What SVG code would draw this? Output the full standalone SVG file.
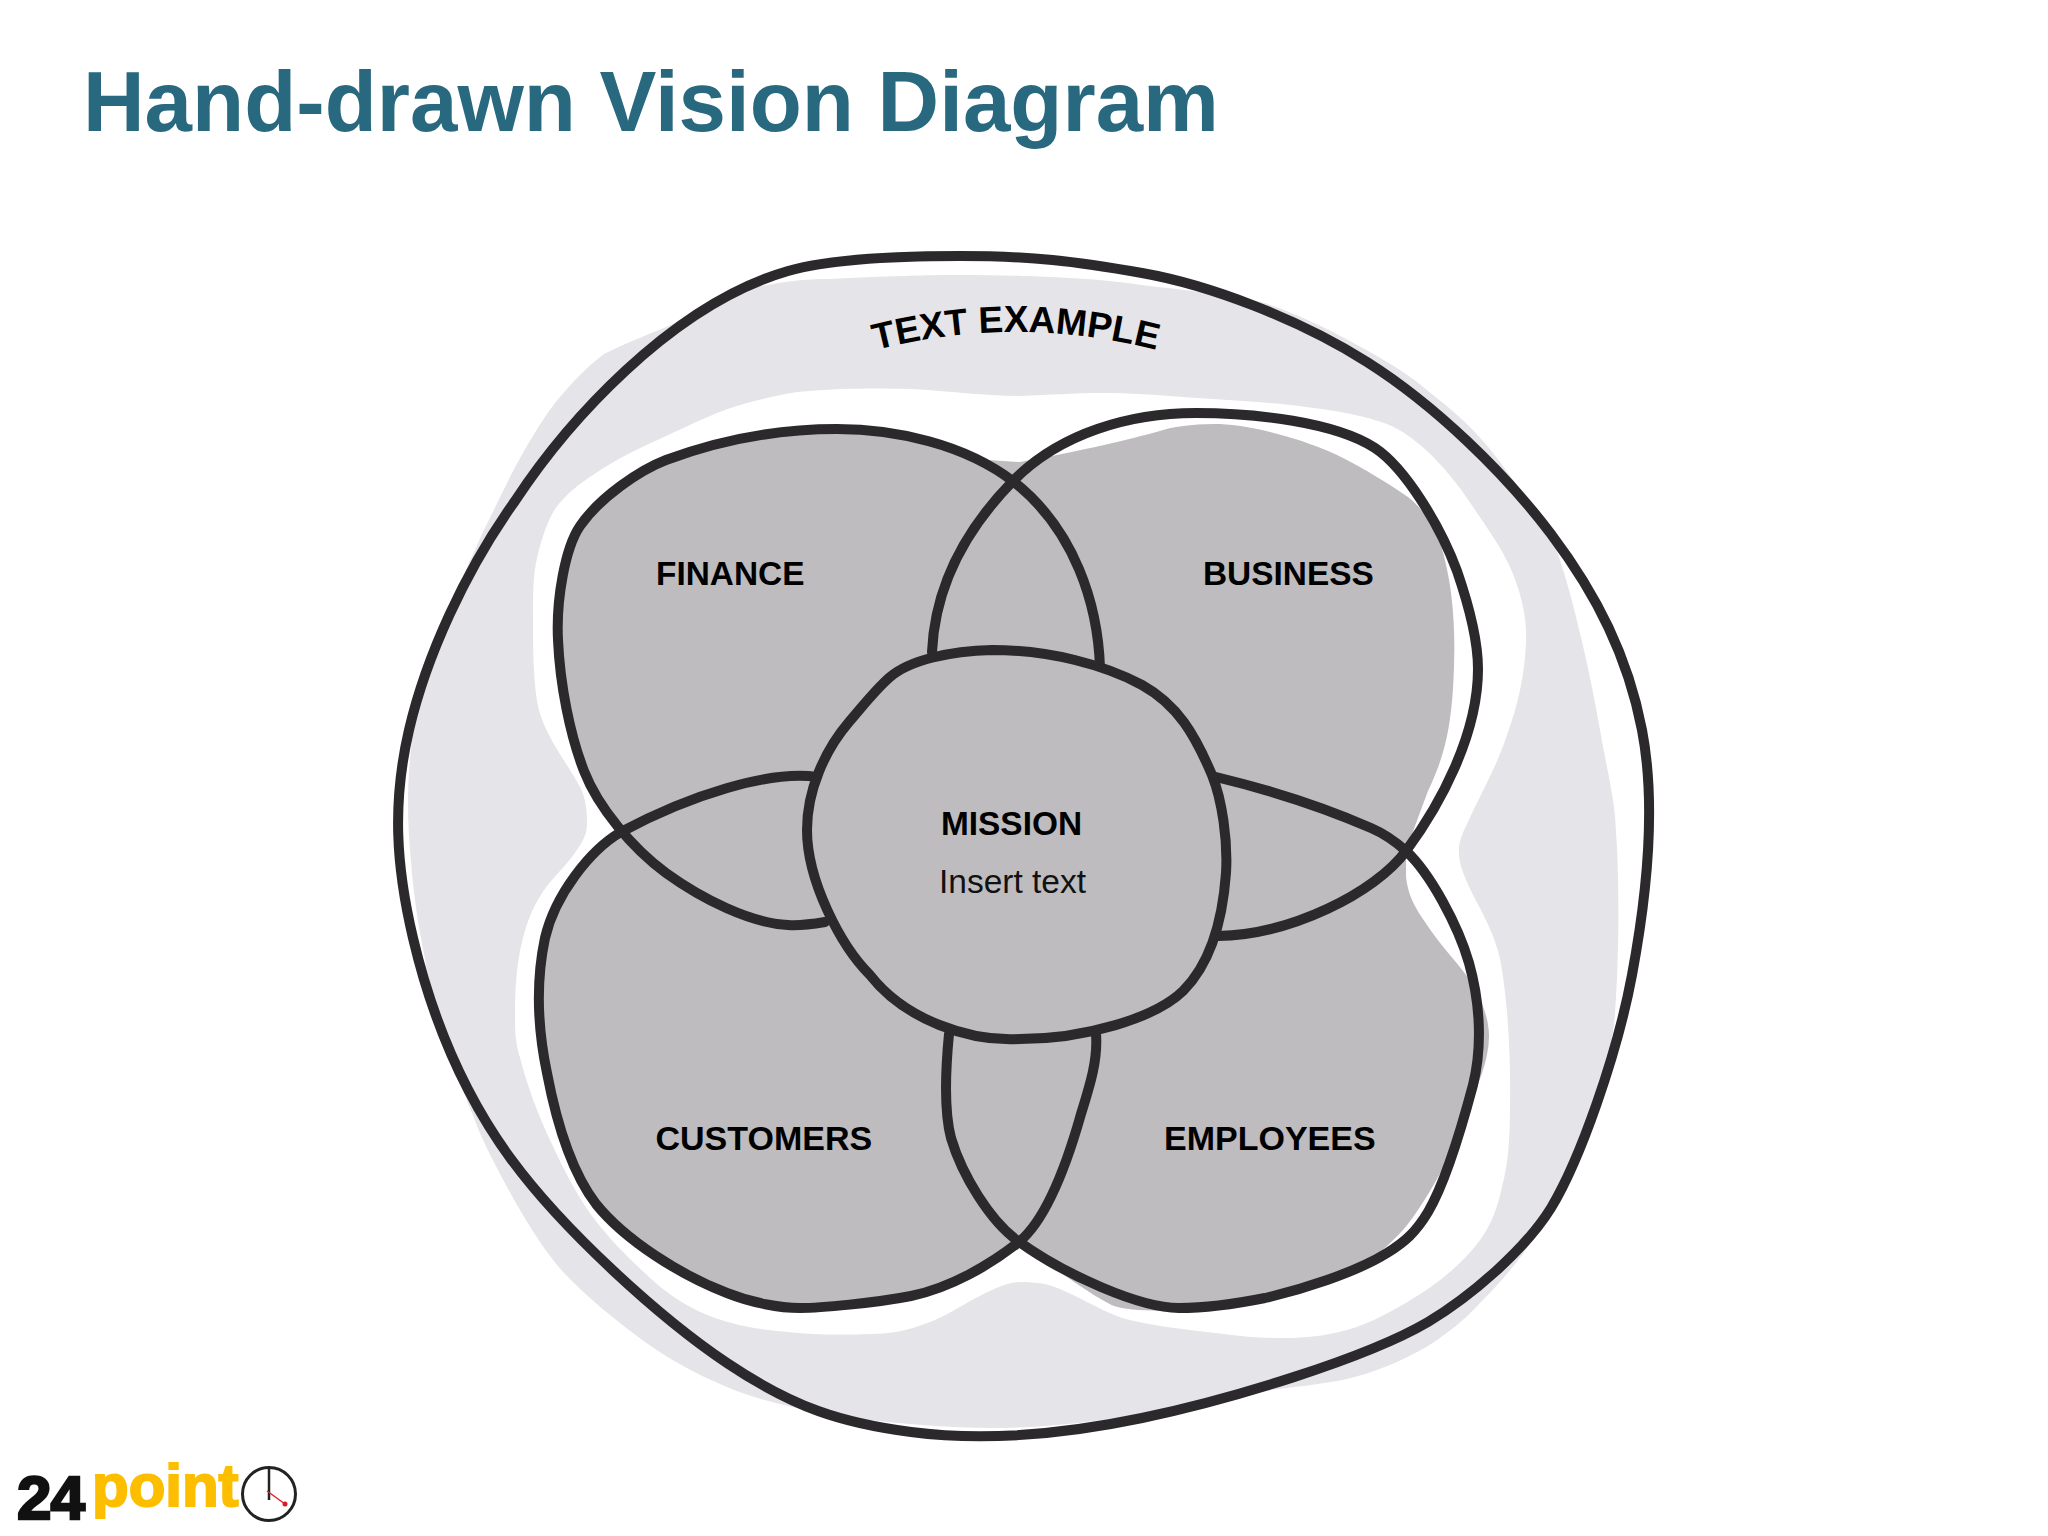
<svg xmlns="http://www.w3.org/2000/svg" width="2048" height="1536" viewBox="0 0 2048 1536">
<style>
.ln{fill:none;stroke:#2b292c;stroke-width:10;stroke-linecap:round;stroke-linejoin:round}
.fl{fill:#bebcbf}
.lb{font-family:"Liberation Sans",Arial,sans-serif;font-weight:700;font-size:33.4px;fill:#000}
</style>
<defs>
<path id="curve" d="M846 358.5 Q1016 305.5 1186 358.5"/>
</defs>
<rect width="2048" height="1536" fill="#fff"/>
<text x="83" y="131" font-family="Liberation Sans,Arial,sans-serif" font-weight="700" font-size="85.3" fill="#28697f">Hand-drawn Vision Diagram</text>
<g id="backdrop">
<path fill="#e5e4e8" d="M960 275 C1030 275 1100 278 1142 285 C1185 290 1230 295 1265 303 C1300 315 1330 330 1359 346 C1385 360 1410 375 1428 391 C1450 408 1470 425 1489 448 C1515 480 1540 520 1555 546 C1570 585 1590 670 1600 730 C1608 775 1615 800 1616 832 C1619 870 1620 960 1614 1024 C1610 1060 1600 1090 1591 1114 C1575 1155 1560 1195 1542 1224 C1525 1255 1500 1283 1481 1302 C1465 1320 1445 1335 1428 1346 C1400 1362 1375 1372 1347 1379 C1320 1385 1290 1387 1265 1391 C1200 1405 1150 1415 1102 1420 C1060 1426 1020 1428 992 1428 C950 1428 905 1424 870 1420 C840 1416 815 1412 796 1408 C770 1402 748 1396 727 1387 C698 1375 670 1360 645 1342 C615 1320 588 1298 564 1273 C543 1250 522 1215 507 1187 C494 1162 484 1145 474 1118 C460 1085 450 1050 441 1020 C435 998 428 980 425 959 C418 925 413 890 411 861 C408 830 407 800 409 771 C411 745 414 715 421 689 C432 650 450 605 462 579 C468 565 475 550 482 534 C495 508 507 482 519 460 C530 440 542 420 555 403 C570 385 585 368 604 354 C625 343 655 332 678 322 C700 310 725 295 747 289 C775 283 800 279 829 279 C870 277 920 275 960 275Z"/>
<path fill="#fff" d="M1020 396 C1050 395 1075 393 1102 393 C1130 393 1155 395 1183 397 C1225 400 1270 402 1306 407 C1340 411 1365 416 1387 424 C1402 430 1415 440 1428 452 C1445 468 1458 485 1469 501 C1485 525 1500 545 1510 567 C1520 590 1527 615 1526 640 C1525 675 1518 705 1506 738 C1495 770 1480 795 1467 824 C1461 836 1458 845 1459 853 C1459 865 1465 878 1473 895 C1482 912 1495 935 1500 959 C1508 1000 1511 1060 1510 1106 C1510 1140 1508 1165 1502 1187 C1497 1210 1490 1228 1477 1244 C1463 1262 1445 1277 1428 1289 C1400 1307 1375 1322 1347 1330 C1325 1336 1305 1338 1285 1338 C1262 1338 1245 1337 1224 1334 C1190 1330 1150 1326 1122 1318 C1105 1312 1090 1303 1073 1295 C1060 1289 1048 1283 1036 1283 C1024 1282 1015 1281 1004 1285 C993 1289 983 1294 972 1300 C953 1311 938 1320 919 1326 C905 1331 888 1334 870 1334 C842 1335 815 1335 788 1332 C762 1330 738 1326 715 1318 C693 1310 675 1299 658 1285 C632 1262 610 1240 592 1216 C575 1192 563 1168 551 1142 C538 1115 527 1085 521 1061 C516 1045 515 1035 515 1020 C515 990 516 965 523 938 C527 922 532 910 539 898 C548 882 562 870 572 857 C581 845 587 835 587 825 C587 810 586 798 580 787 C573 773 563 760 555 746 C546 730 540 718 537 701 C533 675 533 645 533 616 C533 595 533 575 537 558 C541 540 547 522 555 509 C565 495 580 483 596 473 C618 458 642 447 666 436 C690 425 720 410 747 403 C768 398 788 392 809 391 C840 388 880 388 911 389 C950 391 985 396 1020 396Z"/>
</g>
<g id="outer"><path class="ln" d="M960 256 C1032 256 1074 261 1142 273 S1299 319 1367 362 S1505 473 1551 534 S1628 657 1642 730 S1647 895 1632 975 S1580 1160 1551 1208 C1525 1250 1470 1297 1428 1322 C1365 1359 1228 1400 1142 1418 S980 1441 911 1432 S794 1408 727 1363 S563 1230 511 1159 S430 1010 413 938 S392 803 409 730 S465 571 515 501 C565 425 670 305 788 271 C830 259 900 256 960 256Z"/>
<text class="lb" style="font-size:37px"><textPath href="#curve" startOffset="50%" text-anchor="middle">TEXT EXAMPLE</textPath></text>
</g>
<g id="fills">
<path id="fill-finance" class="fl" d="M1100 668 C1098 605 1075 530 1014 482 C965 444 895 429 837 429 C780 429 720 440 666 460 C640 470 600 497 580 526 C565 548 556 600 558 640 C560 685 570 735 584 771 C598 807 632 848 666 873 C702 899 750 923 788 925 C800 926 813 924 825 922Z"/>
<path id="fill-business" class="fl" d="M988 460 L1020 462 C1060 455 1130 440 1163 430 C1180 425 1200 424 1220 424 C1262 426 1320 445 1347 460 C1375 475 1395 488 1408 497 C1425 510 1435 530 1440 542 C1455 590 1456 640 1453 689 C1450 730 1445 755 1428 791 L1406 850 L1218 936 L932 660 L945 570Z"/>
<path id="fill-employees" class="fl" d="M1216 777 C1270 790 1325 808 1371 828 C1385 834 1396 842 1406 851 L1406 877 C1408 895 1415 908 1425 922 C1440 945 1455 960 1463 971 C1478 990 1489 1015 1489 1036 C1489 1060 1478 1085 1469 1106 C1455 1150 1430 1195 1408 1224 C1395 1240 1378 1255 1363 1265 L1265 1298 L1204 1307 C1180 1312 1130 1312 1114 1306 C1095 1298 1045 1262 1028 1249 L949 1034Z"/>
<path id="fill-customers" class="fl" d="M817 777 C770 770 690 795 621 832 C590 850 555 895 545 938 C535 985 538 1030 547 1073 C555 1115 570 1170 596 1204 C625 1240 680 1275 727 1293 C752 1303 780 1308 800 1308 C820 1308 875 1303 911 1296 C950 1288 990 1265 1019 1242 C1048 1218 1068 1160 1081 1114 C1090 1085 1098 1060 1096 1034Z"/>
</g>
<g id="finance"><path class="ln" d="M1100 668 C1098 605 1075 530 1014 482 C965 444 895 429 837 429 C780 429 720 440 666 460 C640 470 600 497 580 526 C565 548 556 600 558 640 C560 685 570 735 584 771 C598 807 632 848 666 873 C702 899 750 923 788 925 C800 926 813 924 825 922"/>
<text class="lb" x="656" y="585">FINANCE</text></g>
<g id="business"><path class="ln" d="M932 652 C935 585 965 530 1013 481 C1060 433 1130 413 1196 413 C1255 413 1335 422 1375 448 C1405 468 1440 525 1457 571 C1467 600 1478 640 1478 669 C1478 735 1440 805 1406 851 C1375 893 1290 935 1218 936"/>
<text class="lb" x="1203" y="585">BUSINESS</text></g>
<g id="employees"><path class="ln" d="M1216 777 C1270 790 1325 808 1371 828 C1385 834 1396 842 1406 851 C1430 873 1458 925 1469 963 C1478 995 1484 1040 1473 1085 C1465 1115 1448 1178 1428 1212 C1416 1232 1405 1242 1387 1253 C1355 1273 1300 1290 1265 1298 C1235 1304 1205 1308 1179 1308 C1140 1308 1065 1275 1018 1241 C990 1221 962 1175 951 1138 C945 1115 945 1075 949 1034"/>
<text class="lb" style="font-size:34px" x="1164" y="1150">EMPLOYEES</text></g>
<g id="customers"><path class="ln" d="M817 777 C770 770 690 795 621 832 C590 850 555 895 545 938 C535 985 538 1030 547 1073 C555 1115 570 1170 596 1204 C625 1240 680 1275 727 1293 C752 1303 780 1308 800 1308 C820 1308 875 1303 911 1296 C950 1288 990 1265 1019 1242 C1048 1218 1068 1160 1081 1114 C1090 1085 1098 1060 1096 1034"/>
<text class="lb" style="font-size:34px" x="655.5" y="1150">CUSTOMERS</text></g>
<g id="mission"><path class="fl" stroke="#2b292c" stroke-width="10" stroke-linejoin="round" d="M992 650 C1050 650 1105 665 1142 685 C1178 705 1195 735 1212 775 C1222 800 1228 840 1226 873 C1223 915 1212 962 1183 991 C1155 1018 1085 1039 1020 1039 C970 1042 905 1020 870 975 C840 945 807 880 807 830 C807 790 825 750 849 722 C862 707 875 690 890 677 C910 660 950 651 992 650Z"/>
<text class="lb" x="1011.5" y="835" text-anchor="middle">MISSION</text>
<text x="1012.5" y="893" text-anchor="middle" font-family="Liberation Sans,Arial,sans-serif" font-size="33.5" fill="#111">Insert text</text></g>
<g id="logo">
<text x="17" y="1519" font-family="Liberation Sans,Arial,sans-serif" font-weight="700" font-size="62" fill="#111" letter-spacing="-1" stroke="#111" stroke-width="2.5">24</text>
<text x="92" y="1506" font-family="Liberation Sans,Arial,sans-serif" font-weight="700" font-size="60" fill="#fdbe00" stroke="#fdbe00" stroke-width="2">point</text>
<circle cx="269" cy="1494" r="26.5" fill="#fff" stroke="#222" stroke-width="3"/>
<path d="M269 1468V1500" stroke="#222" stroke-width="2.5" fill="none"/>
<path d="M267 1491L285 1504" stroke="#e0222a" stroke-width="1.5" fill="none"/>
<circle cx="285" cy="1504" r="2.5" fill="#d2202a"/>
</g>
</svg>
